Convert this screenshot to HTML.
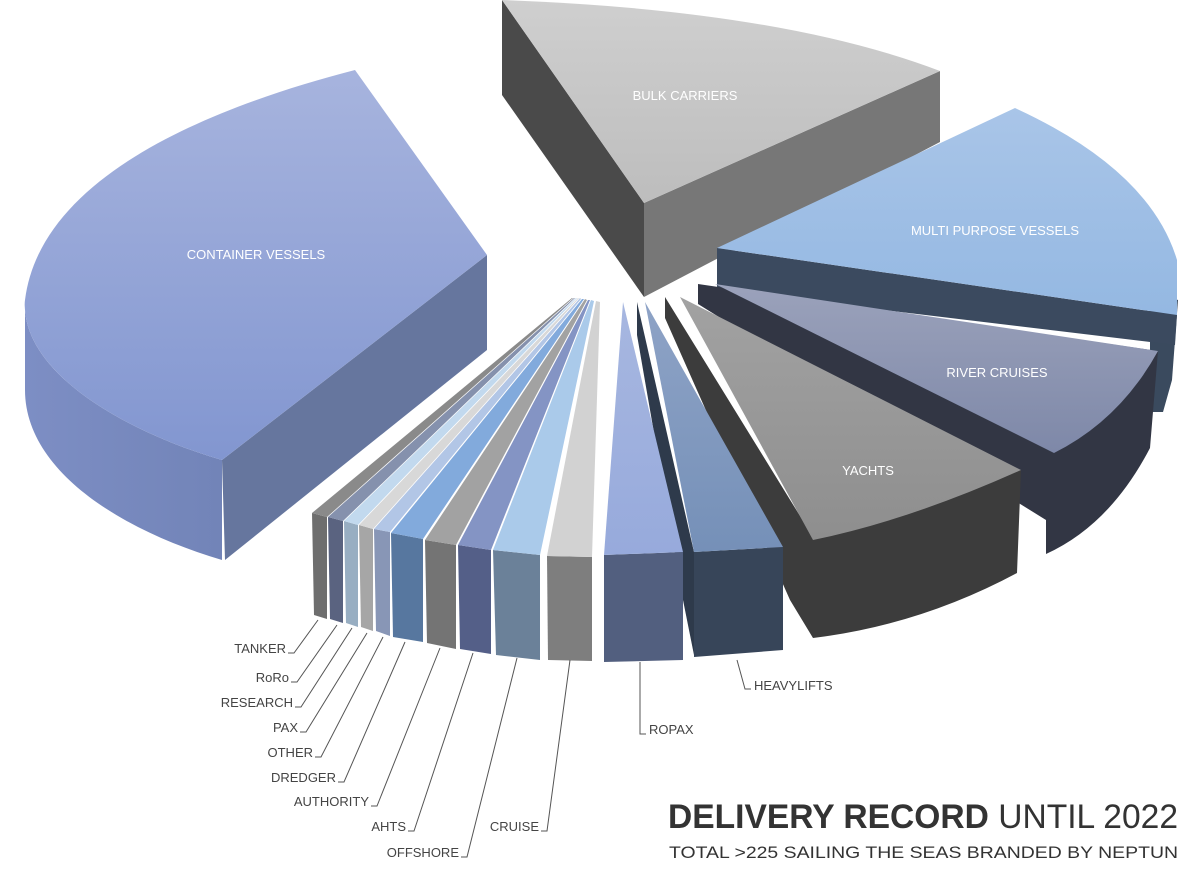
<!DOCTYPE html>
<html><head><meta charset="utf-8"><style>
html,body{margin:0;padding:0;background:#fff;}
svg{display:block;}
text{font-family:"Liberation Sans",sans-serif;}
</style></head><body>
<svg width="1200" height="879" viewBox="0 0 1200 879" xmlns="http://www.w3.org/2000/svg">
<defs>
<linearGradient id="gC" x1="0" y1="0" x2="0" y2="1"><stop offset="0" stop-color="#a7b4de"/><stop offset="1" stop-color="#8296d0"/></linearGradient>
<linearGradient id="gCs" x1="0" y1="0" x2="1" y2="0"><stop offset="0" stop-color="#7d8ec4"/><stop offset="1" stop-color="#7284b8"/></linearGradient>
<linearGradient id="gB" x1="0" y1="0" x2="0" y2="1"><stop offset="0" stop-color="#cfcfcf"/><stop offset="1" stop-color="#bdbdbd"/></linearGradient>
<linearGradient id="gM" x1="0" y1="0" x2="0" y2="1"><stop offset="0" stop-color="#a9c5e8"/><stop offset="1" stop-color="#94b8e2"/></linearGradient>
<linearGradient id="gR" x1="0" y1="0" x2="0" y2="1"><stop offset="0" stop-color="#9ba2bb"/><stop offset="1" stop-color="#7e88a8"/></linearGradient>
<linearGradient id="gY" x1="0" y1="0" x2="0" y2="1"><stop offset="0" stop-color="#a2a2a2"/><stop offset="1" stop-color="#8e8e8e"/></linearGradient>
<linearGradient id="gH" x1="0" y1="0" x2="0" y2="1"><stop offset="0" stop-color="#8ea3c6"/><stop offset="1" stop-color="#7590b8"/></linearGradient>
<linearGradient id="gP" x1="0" y1="0" x2="0" y2="1"><stop offset="0" stop-color="#a7b7e0"/><stop offset="1" stop-color="#97aadc"/></linearGradient>
</defs>

<!-- CONTAINER VESSELS -->
<path d="M25,300 C20,370 120,430 222,460 L222,560 C120,530 25,470 25,390 Z" fill="url(#gCs)"/>
<polygon points="222,460 487,255 487,350 225,560" fill="#66769e"/>
<path d="M355,70 L487,255 L222,460 C120,430 20,370 25,300 C40,180 200,110 355,70 Z" fill="url(#gC)"/>
<text x="256" y="259" font-size="13" fill="#fff" text-anchor="middle">CONTAINER VESSELS</text>

<!-- BULK CARRIERS -->
<polygon points="502,0 644,203 644,297 502,95" fill="#4a4a4a"/>
<polygon points="644,203 940,71 940,142 644,297" fill="#777"/>
<path d="M502,0 Q780,10 940,71 L644,203 Z" fill="url(#gB)"/>
<text x="685" y="100" font-size="13" fill="#fff" text-anchor="middle">BULK CARRIERS</text>

<!-- MULTI PURPOSE -->
<polygon points="1150,290 1178,300 1172,380 1163,412 1150,412" fill="#3a4a5e"/>
<polygon points="717,248 1177,315 1175,345 717,290" fill="#3b4a5f"/>
<path d="M717,248 L1015,108 Q1150,170 1177,260 L1177,315 Z" fill="url(#gM)"/>
<text x="995" y="235" font-size="13" fill="#fff" text-anchor="middle">MULTI PURPOSE VESSELS</text>

<!-- RIVER CRUISES -->
<path d="M698,284 L1158,351 L1150,448 Q1110,525 1046,554 L1046,520 L698,304 Z" fill="#323644"/>
<path d="M715,284 L1158,351 Q1120,420 1054,453 Z" fill="url(#gR)"/>
<text x="997" y="377" font-size="13" fill="#fff" text-anchor="middle">RIVER CRUISES</text>

<!-- YACHTS -->
<path d="M665,297 L813,537 L1021,470 L1017,573 Q920,625 813,638 L790,600 L665,318 Z" fill="#3c3c3c"/>
<path d="M680,297 L1021,470 Q910,520 813,540 Z" fill="url(#gY)"/>
<text x="868" y="475" font-size="13" fill="#fff" text-anchor="middle">YACHTS</text>

<!-- HEAVYLIFTS -->
<polygon points="637,302 694,552 694,655 683,600 637,335" fill="#2e3a4b"/>
<polygon points="694,552 783,547 783,650 694,657" fill="#374559"/>
<polygon points="645,302 783,547 694,552" fill="url(#gH)"/>

<!-- ROPAX -->
<polygon points="604,555 683,552 683,660 604,662" fill="#525f7f"/>
<polygon points="623,302 683,552 604,555" fill="url(#gP)"/>

<!-- small slices -->
<g>
<polygon points="312,513 327,517 327,619 314,615" fill="#6e6e6e"/>
<polygon points="572,298 573,298 327,517 312,513" fill="#8a8a8a"/>
<polygon points="328,517 343,521 343,623 330,619" fill="#5a6380"/>
<polygon points="574,298 575,298 343,521 328,517" fill="#8591ad"/>
<polygon points="344,521 358,525 358,627 346,623" fill="#98aec2"/>
<polygon points="576,298 577,298 358,525 344,521" fill="#c2d9ee"/>
<polygon points="359,525 373,529 373,631 361,627" fill="#a6a6a6"/>
<polygon points="578,298 579,298 373,529 359,525" fill="#d8d8d8"/>
<polygon points="374,529 390,532 390,636 376,631" fill="#8896b6"/>
<polygon points="580,298 581,299 390,532 374,529" fill="#b2c6e6"/>
<polygon points="391,533 423,539 423,642 393,637" fill="#57779f"/>
<polygon points="582,299 584,299 423,539 391,533" fill="#82aadc"/>
<polygon points="425,540 456,545 456,649 427,643" fill="#747474"/>
<polygon points="585,299 587,300 456,545 425,540" fill="#a2a2a2"/>
<polygon points="458,545 491,550 491,654 460,649" fill="#545f88"/>
<polygon points="588,300 590,300 491,550 458,545" fill="#8494c4"/>
<polygon points="493,550 540,555 540,660 496,655" fill="#6b8199"/>
<polygon points="591,300 594,301 540,555 493,550" fill="#aacaea"/>
<polygon points="547,556 592,557 592,661 548,660" fill="#7e7e7e"/>
<polygon points="596,301 600,302 592,557 547,556" fill="#d2d2d2"/>
</g>

<!-- leader lines -->
<g stroke="#555" stroke-width="1" fill="none">
<path d="M288,653 L294,653 L318,620"/>
<path d="M291,682 L297,682 L337,625"/>
<path d="M295,707 L301,707 L352,628"/>
<path d="M300,732 L306,732 L367,633"/>
<path d="M315,757 L321,757 L383,637"/>
<path d="M338,782 L344,782 L405,642"/>
<path d="M371,806 L377,806 L440,648"/>
<path d="M408,831 L414,831 L473,653"/>
<path d="M461,857 L467,857 L517,658"/>
<path d="M541,831 L547,831 L570,660"/>
<path d="M640,662 L640,734 L646,734"/>
<path d="M737,660 L745,689 L751,689"/>
</g>
<g font-size="13" fill="#444" text-anchor="end">
<text x="286" y="653">TANKER</text>
<text x="289" y="682">RoRo</text>
<text x="293" y="707">RESEARCH</text>
<text x="298" y="732">PAX</text>
<text x="313" y="757">OTHER</text>
<text x="336" y="782">DREDGER</text>
<text x="369" y="806">AUTHORITY</text>
<text x="406" y="831">AHTS</text>
<text x="459" y="857">OFFSHORE</text>
<text x="539" y="831">CRUISE</text>
</g>
<text x="649" y="734" font-size="13" fill="#444">ROPAX</text>
<text x="754" y="690" font-size="13" fill="#444">HEAVYLIFTS</text>

<text x="668" y="828" font-size="34" fill="#333" textLength="510" lengthAdjust="spacingAndGlyphs"><tspan font-weight="bold">DELIVERY RECORD</tspan> UNTIL 2022</text>
<text x="669" y="858" font-size="17" fill="#333" textLength="509" lengthAdjust="spacingAndGlyphs">TOTAL &gt;225 SAILING THE SEAS BRANDED BY NEPTUN</text>
</svg>
</body></html>
